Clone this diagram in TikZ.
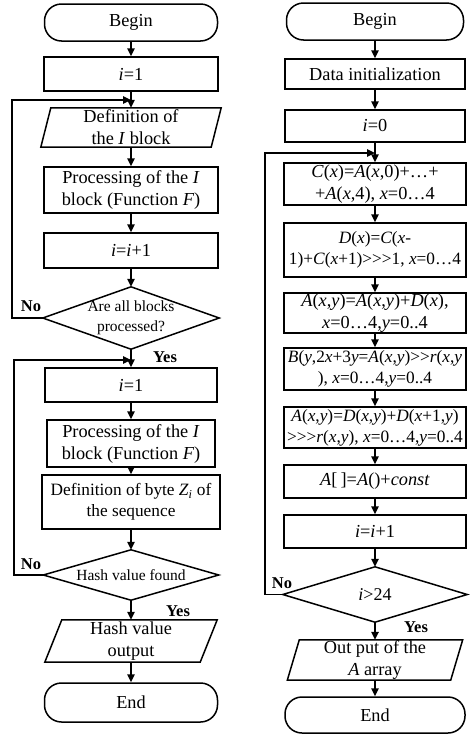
\documentclass[tikz,border=0pt]{standalone}
\usepackage{fontspec}
\setmainfont{Liberation Serif}
\usetikzlibrary{arrows.meta}
\newcommand\vi[1]{\textit{#1}}
\newcommand\gtr{\symbol{62}}
\newcommand\plgdraw[2]{\draw[ln] ([xshift=#2]#1.north west) -- (#1.north east) -- ([xshift=-#2]#1.south east) -- (#1.south west) -- cycle;}
\newcommand\diadraw[1]{\draw[ln] (#1.north) -- (#1.east) -- (#1.south) -- (#1.west) -- cycle;}
\begin{document}
\begin{tikzpicture}[x=1pt,y=-1pt,
  ln/.style={line width=1.5pt, line join=miter},
  txt/.style={inner sep=0pt, align=center, font=\fontsize{18.3}{22}\selectfont},
  bx/.style 2 args={txt, draw, ln, minimum width=#1, minimum height=#2},
  term/.style 2 args={bx={#1}{#2}, rounded corners=17pt},
  plg/.style 2 args={txt, minimum width=#1, minimum height=#2},
  dia/.style 2 args={txt, minimum width=#1, minimum height=#2, font=\fontsize{15.5}{20}\selectfont},
  small/.style={font=\fontsize{17.3}{21}\selectfont},
  arr/.style={ln, -{Triangle[length=8pt,width=7.5pt]}},
  lab/.style={inner sep=0pt, font=\fontsize{16.5}{18}\selectfont\bfseries}
]
\useasboundingbox (0,0) rectangle (474,737);
% ---------- left column ----------
\node[term={173}{37}] (beginL) at (131,22.5) {Begin};
\node[bx={174}{34}] (i1) at (131,74) {\vi{i}=1};
\node[plg={180}{39}] (defI) at (131,127.5) {Definition of\\the \vi{I} block};
\plgdraw{defI}{10}
\node[bx={174}{46}] (proc1) at (131,190) {Processing of the \vi{I}\\block (Function \vi{F})};
\node[bx={174}{35}] (inc1) at (131,250.5) {\vi{i}=\vi{i}+1};
\node[dia={176}{62}] (dia1) at (131,318) {Are all blocks\\processed?};
\diadraw{dia1}
\node[bx={172}{34}] (i1b) at (131,385) {\vi{i}=1};
\node[bx={168}{47}] (proc2) at (131,443.5) {Processing of the \vi{I}\\block (Function \vi{F})};
\node[bx={178}{54}, small] (defZ) at (131,502) {Definition of byte \vi{Z}\textsubscript{\vi{i}} of\\the sequence};
\node[dia={175}{50}] (dia2) at (131,575) {Hash value found};
\diadraw{dia2}
\node[plg={172}{42}] (out1) at (131,641) {Hash value\\output};
\plgdraw{out1}{17}
\node[term={173}{39}] (endL) at (131,702.5) {End};

\coordinate (j1) at (131,100);
\coordinate (j2) at (131,360);
\draw[arr] (beginL.south) -- (i1.north);
\draw[arr] (i1.south) -- (defI.north);
\draw[arr] (defI.south) -- (proc1.north);
\draw[arr] (proc1.south) -- (inc1.north);
\draw[arr] (inc1.south) -- (dia1.north);
\draw[arr] (dia1.south) -- (i1b.north);
\draw[arr] (i1b.south) -- (proc2.north);
\draw[arr] (proc2.south) -- (defZ.north);
\draw[arr] (defZ.south) -- (dia2.north);
\draw[arr] (dia2.south) -- (out1.north);
\draw[arr] (out1.south) -- (endL.north);
\draw[arr] (dia1.west) -- ++(-31,0) |- (j1);
\draw[arr] (dia2.west) -- ++(-29.5,0) |- (j2);
\node[lab] (no1) at (31,306) {No};
\node[lab] (yes1) at (165,357) {Yes};
\node[lab] (no2) at (31,564) {No};
\node[lab] (yes2) at (178,611) {Yes};

% ---------- right column ----------
\node[term={177}{37}] (beginR) at (375,21.5) {Begin};
\node[bx={180}{30}] (data) at (375,74) {Data initialization};
\node[bx={180}{32}] (i0) at (375,126) {\vi{i}=0};
\node[bx={182}{42}] (cx) at (375,184) {\vi{C}(\vi{x})=\vi{A}(\vi{x},0)+…+\\+\vi{A}(\vi{x},4), \vi{x}=0…4};
\node[bx={182}{54}, small] (dx) at (375,250) {\vi{D}(\vi{x})=\vi{C}(\vi{x}-\\1)+\vi{C}(\vi{x}+1)\gtr\gtr\gtr1, \vi{x}=0…4};
\node[bx={182}{40}] (axy) at (375,313) {\vi{A}(\vi{x},\vi{y})=\vi{A}(\vi{x},\vi{y})+\vi{D}(\vi{x}),\\\vi{x}=0…4,\vi{y}=0..4};
\node[bx={182}{42}, small] (bxy) at (375,369) {\vi{B}(\vi{y},2\vi{x}+3\vi{y}=\vi{A}(\vi{x},\vi{y})\gtr\gtr\vi{r}(\vi{x},\vi{y}\\), \vi{x}=0…4,\vi{y}=0..4};
\node[bx={182}{41}, small] (axy2) at (375,427.5) {\vi{A}(\vi{x},\vi{y})=\vi{D}(\vi{x},\vi{y})+\vi{D}(\vi{x}+1,\vi{y})\\\gtr\gtr\gtr\vi{r}(\vi{x},\vi{y}), \vi{x}=0…4,\vi{y}=0..4};
\node[bx={182}{33}] (acon) at (375,481.5) {\vi{A}[\,]=\vi{A}()+\vi{const}};
\node[bx={182}{33}] (inc2) at (375,531.5) {\vi{i}=\vi{i}+1};
\node[dia={184}{55}] (dia3) at (375,594.5) {\fontsize{18}{20}\selectfont\vi{i}\gtr24};
\diadraw{dia3}
\node[plg={175}{40}] (out2) at (375,660) {Out put of the\\\vi{A} array};
\plgdraw{out2}{12}
\node[term={180}{36}] (endR) at (375,715) {End};

\coordinate (j3) at (375,153);
\draw[arr] (beginR.south) -- (data.north);
\draw[arr] (data.south) -- (i0.north);
\draw[arr] (i0.south) -- (cx.north);
\draw[arr] (cx.south) -- (dx.north);
\draw[arr] (dx.south) -- (axy.north);
\draw[arr] (axy.south) -- (bxy.north);
\draw[arr] (bxy.south) -- (axy2.north);
\draw[arr] (axy2.south) -- (acon.north);
\draw[arr] (acon.south) -- (inc2.north);
\draw[arr] (inc2.south) -- (dia3.north);
\draw[arr] (dia3.south) -- (out2.north);
\draw[arr] (out2.south) -- (endR.north);
\draw[arr] (dia3.west) -- ++(-18,0) |- (j3);
\node[lab] (no3) at (282,583) {No};
\node[lab] (yes3) at (416,627) {Yes};
\end{tikzpicture}
\end{document}
